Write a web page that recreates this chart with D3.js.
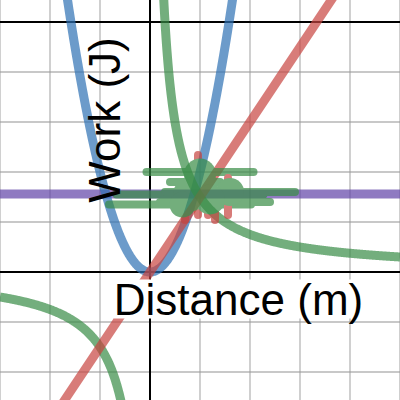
<!DOCTYPE html>
<html><head><meta charset="utf-8">
<script src="https://cdn.jsdelivr.net/npm/d3@7"></script>
<style>body{margin:0}svg{display:block}</style>
</head><body><svg id="chart"></svg>
<script>
// Data (graph units)
var gridX = [-3, -2, -1, 1, 2, 3, 4, 5];
var gridY = [-2, -1, 1, 2, 3, 4, 5];
var purpleY = 1.56;
var blackY = 5;
var blueA = 2, redSlope = 1.5, greenK = 1.5;
// measured points: x, y, x error, y error
var ptX = [1.0, 0.8, 1.6, 0.6, 1.3, 0.9];
var ptY = [2.0, 1.55, 1.6, 1.35, 1.4, 1.8];
var ptXerr = [1.07, 1.47, 1.3, 1.42, 1.1, 0.5];
var ptYerr = [0, 0, 0, 0, 0, 0];
var redX = [0.96, 0.7, 1.16, 1.56, 1.3];
var redLo = [1.14, 1.04, 1.14, 1.14, 1.04];
var redHi = [2.34, 1.74, 1.84, 1.88, 1.64];
var dotX = [1.0, 0.8, 1.6, 0.65, 1.2];
var dotY = [1.95, 1.55, 1.6, 1.35, 1.45];
var dotR = [16, 17, 14, 13, 15];

var width = 400, height = 400;
var x = d3.scaleLinear().domain([-3, 5]).range([0, 400]);
var y = d3.scaleLinear().domain([-2.56, 5.44]).range([400, 0]);
var svg = d3.select("#chart").attr("width", width).attr("height", height);
svg.append("rect").attr("width", width).attr("height", height).attr("fill", "#fff");

// grid
svg.selectAll(".gx").data(gridX).enter().append("line")
  .attr("x1", d => x(d)).attr("x2", d => x(d)).attr("y1", 0).attr("y2", height)
  .attr("stroke", "#999").attr("stroke-width", 1.3).attr("opacity", 0.7);
svg.selectAll(".gy").data(gridY).enter().append("line")
  .attr("y1", d => y(d)).attr("y2", d => y(d)).attr("x1", 0).attr("x2", width)
  .attr("stroke", "#999").attr("stroke-width", 1.3).attr("opacity", 0.7);

// axes
svg.append("line").attr("x1", x(0)).attr("x2", x(0)).attr("y1", 0).attr("y2", height).attr("stroke", "#000").attr("stroke-width", 2);
svg.append("line").attr("x1", 0).attr("x2", width).attr("y1", y(0)).attr("y2", y(0)).attr("stroke", "#000").attr("stroke-width", 2);
svg.append("line").attr("x1", 0).attr("x2", width).attr("y1", y(blackY)).attr("y2", y(blackY)).attr("stroke", "#000").attr("stroke-width", 2);

function curve(f, x0, x1, color) {
  var pts = d3.range(x0, x1 + 1e-9, 0.01).map(v => [v, f(v)]).filter(p => p[1] > -4 && p[1] < 7);
  svg.append("path").datum(pts)
    .attr("d", d3.line().x(p => x(p[0])).y(p => y(p[1])))
    .attr("fill", "none").attr("stroke", color).attr("stroke-width", 9).attr("opacity", 0.7);
}
curve(v => purpleY, -3, 5, "#6042a6");
curve(v => blueA * v * v, -3, 5, "#2d70b3");
curve(v => greenK / v, -3, -0.2, "#388c46");
curve(v => greenK / v, 0.2, 5, "#388c46");
curve(v => redSlope * v, -3, 5, "#c74440");

// measurement clutter
var g = svg.append("g").attr("opacity", 0.7);
ptX.forEach(function(d, i) {
  g.append("line").attr("x1", x(d - ptXerr[i])).attr("x2", x(d + ptXerr[i]))
    .attr("y1", y(ptY[i] - ptYerr[i])).attr("y2", y(ptY[i]))
    .attr("stroke", "#388c46").attr("stroke-width", 8).attr("stroke-linecap", "round");
});
redX.forEach(function(d, i) {
  g.append("line").attr("x1", x(d)).attr("x2", x(d)).attr("y1", y(redLo[i])).attr("y2", y(redHi[i]))
    .attr("stroke", "#c74440").attr("stroke-width", 8).attr("stroke-linecap", "round");
});
dotX.forEach(function(d, i) {
  g.append("circle").attr("cx", x(d)).attr("cy", y(dotY[i])).attr("r", dotR[i]).attr("fill", "#388c46");
});

// labels
var font = "Liberation Sans, Arial, sans-serif";
var dl = svg.append("text").attr("x", x(1.77)).attr("y", y(-0.85)).attr("text-anchor", "middle")
  .attr("font-family", font).attr("font-size", 44).text("Distance (m)");
var bb = dl.node().getBBox();
svg.insert("rect", "text").attr("x", bb.x).attr("y", bb.y + 5).attr("width", bb.width).attr("height", bb.height - 10).attr("fill", "#fff");
svg.append("text").attr("transform", "translate(" + (x(-0.6)) + "," + y(3.04) + ") rotate(-90)")
  .attr("text-anchor", "middle").attr("font-family", font).attr("font-size", 44).text("Work (J)");
</script></body></html>
